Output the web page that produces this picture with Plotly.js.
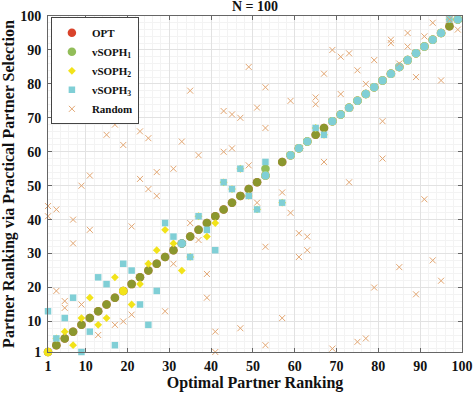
<!DOCTYPE html>
<html>
<head>
<meta charset="utf-8">
<script src="https://cdn.plot.ly/plotly-3.0.1.min.js"></script>
<style>html,body{margin:0;padding:0;background:#fff;}#chart{width:474px;height:399px;}</style>
</head>
<body>
<div id="chart"></div>
<script>
// ---- data ----
const optX = [1,3,5,7,9,11,13,15,17,19,21,23,25,27,29,31,33,35,37,39,41,43,45,47,49,51,53,57,59,61,63,65,67,69,71,73,75,77,79,81,83,85,87,89,91,93,95,97,99];
const optY = [1,3,5,7,9,11,13,15,17,19,21,23,25,27,29,31,33,35,37,39,41,43,45,47,49,51,53,57,59,61,63,65,67,69,71,73,75,77,79,81,83,85,87,89,91,93,95,97,99];

const s1X = [1,3,5,7,9,11,13,15,17,19,21,23,25,27,29,31,33,35,37,39,41,43,45,47,49,51,53,53,57,59,61,63,65,67,69,71,73,75,77,79,81,83,85,87,89,91,93,95,97,99];
const s1Y = [1,3,5,7,9,11,13,15,17,19,21,23,25,27,29,31,33,35,37,39,41,43,45,47,49,51,53,55,57,59,61,63,65,67,69,71,73,75,77,79,81,83,85,87,89,91,93,95,97,99];

const s2X = [1,3,5,7,9,11,13,15,17,19,21,23,25,27,29,31,33,35,37,39,41,43,45,47,49,51,53,57,59,61,63,65,67,69,71,73,75,77,79,81,83,85,87,89,91,93,95,97,99];
const s2Y = [1,5,7,3,11,17,9,11,23,19,15,21,27,31,37,33,25,29,41,35,39,51,49,55,47,43,53,45,59,61,63,67,65,69,71,73,75,77,79,81,83,85,87,89,91,93,95,99,99];

const s3X = [1,3,5,7,9,11,13,15,17,19,21,23,25,27,29,31,33,35,37,39,41,43,45,47,49,51,53,53,57,59,61,63,65,67,69,71,73,75,77,79,81,83,85,87,89,91,93,95,97,99];
const s3Y = [13,5,11,17,1,7,23,21,3,27,25,15,9,19,39,35,33,29,41,37,31,51,49,55,47,43,53,57,45,59,61,63,67,65,69,71,73,75,77,79,81,83,85,87,89,91,93,95,99,99];

const rndX = [1,1,3,3,5,5,7,7,9,9,11,11,13,15,17,17,19,19,21,21,23,23,25,25,27,27,29,31,31,33,35,35,37,37,39,39,41,41,43,43,45,45,47,47,49,49,51,51,53,53,53,53,57,57,59,59,61,61,63,63,65,65,67,67,69,69,71,71,73,73,75,75,77,77,79,79,81,81,83,83,85,85,87,87,89,89,91,91,93,93,95,95,97,99];
const rndY = [41,44,19,43,14,16,33,40,15,50,37,53,6,65,9,68,10,62,12,38,52,66,49,64,47,54,13,27,55,63,39,78,34,59,17,24,1,7,60,72,61,71,8,70,56,85,45,73,3,32,67,79,11,48,42,75,29,36,31,35,74,76,57,83,2,90,77,88,51,89,4,84,5,80,20,87,58,69,92,93,26,86,91,95,18,82,46,94,28,98,22,81,99,96];

const seriesNames = ['OPT','vSOPH<sub>1</sub>','vSOPH<sub>2</sub>','vSOPH<sub>3</sub>','Random'];
const tickVals = [1,10,20,30,40,50,60,70,80,90,100];
const tickText = ['1','10','20','30','40','50','60','70','80','90','100'];

// ---- helpers ----
function split(xs, ys, onDiag) {
  const ox = [], oy = [];
  xs.forEach((x, i) => { if ((ys[i] === x) === onDiag) { ox.push(x); oy.push(ys[i]); } });
  return {x: ox, y: oy};
}
const minorVals = [];
for (let v = 2; v < 100; v += 2) if (v % 10 !== 0) minorVals.push(v);

const FONT = 'Liberation Serif, Times New Roman, serif';
const RED = '#d9432b', GREEN = '#77ac30', YEL = '#f2e31a', CYAN = '#80cfd6', ORANGE = '#e2a672';

const s2off = split(s2X, s2Y, false), s2on = split(s2X, s2Y, true);
const s3off = split(s3X, s3Y, false), s3on = split(s3X, s3Y, true);

const traces = [
  {x: optX, y: optY, name: seriesNames[0], mode: 'markers', type: 'scatter', cliponaxis: false,
   marker: {symbol: 'circle', size: 8.5, color: RED}},
  {x: s1X, y: s1Y, name: seriesNames[1], mode: 'markers', type: 'scatter', cliponaxis: false,
   marker: {symbol: 'circle', size: 8.5, color: GREEN, opacity: 0.8}},
  {x: s2off.x, y: s2off.y, name: seriesNames[2], mode: 'markers', type: 'scatter', cliponaxis: false,
   marker: {symbol: 'diamond', size: 6, color: YEL}},
  {x: s2on.x, y: s2on.y, name: seriesNames[2], showlegend: false, mode: 'markers', type: 'scatter', cliponaxis: false,
   marker: {symbol: 'circle', size: 8.5, color: YEL}},
  {x: s3off.x, y: s3off.y, name: seriesNames[3], mode: 'markers', type: 'scatter', cliponaxis: false,
   marker: {symbol: 'square', size: 6.5, color: CYAN}},
  {x: s3on.x, y: s3on.y, name: seriesNames[3], showlegend: false, mode: 'markers', type: 'scatter', cliponaxis: false,
   marker: {symbol: 'circle', size: 8.5, color: CYAN}},
  {x: rndX, y: rndY, name: seriesNames[4], mode: 'markers', type: 'scatter', cliponaxis: false,
   marker: {symbol: 'x-thin', size: 6, color: ORANGE, line: {color: ORANGE, width: 1}}}
];

function axis(title, labelStandoff, titleStandoff) {
  return {
    range: [1, 100], tickmode: 'array', tickvals: tickVals, ticktext: tickText,
    ticks: 'inside', ticklen: 4, tickcolor: '#666', tickwidth: 1,
    showline: true, linecolor: '#666', linewidth: 1, mirror: 'ticks',
    showgrid: true, gridcolor: '#e2e2e2', gridwidth: 1, zeroline: false,
    minor: {tickmode: 'array', tickvals: minorVals, showgrid: true, gridcolor: '#f3f3f3', gridwidth: 1, ticks: ''},
    tickfont: {family: FONT, size: 14, weight: 700, color: '#111'},
    ticklabelstandoff: labelStandoff,
    title: {text: title, standoff: titleStandoff, font: {family: FONT, size: 16, weight: 700, color: '#111'}},
    automargin: false, fixedrange: true
  };
}

const layout = {
  width: 474, height: 399,
  margin: {l: 48, r: 12, t: 16, b: 47},
  paper_bgcolor: '#ffffff', plot_bgcolor: '#ffffff',
  font: {family: FONT, color: '#111'},
  title: {text: 'N = 100', font: {family: FONT, size: 14, weight: 700, color: '#111'},
          xref: 'paper', x: 0.5, xanchor: 'center', yref: 'container', y: 0.985, yanchor: 'middle'},
  xaxis: axis('Optimal Partner Ranking', 1, 2),
  yaxis: axis('Partner Ranking via Practical Partner Selection', 3, 1),
  showlegend: true,
  legend: {x: 0.007, y: 0.996, xanchor: 'left', yanchor: 'top', bgcolor: '#ffffff',
           bordercolor: '#444', borderwidth: 1, font: {family: FONT, size: 11, weight: 700, color: '#111'},
           tracegroupgap: 0, itemsizing: 'trace'}
};

Plotly.newPlot('chart', traces, layout, {displayModeBar: false, staticPlot: true});
</script>
</body>
</html>
